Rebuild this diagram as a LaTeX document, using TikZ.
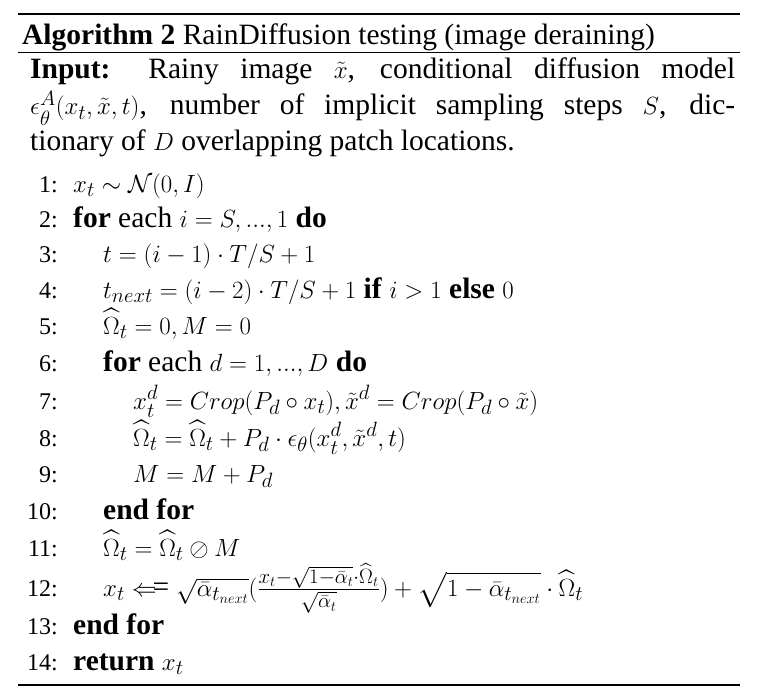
\documentclass[tikz,border=0pt]{standalone}
\usepackage{amsmath,amssymb}
\usepackage{fontspec}
\setmainfont{Liberation Serif}
\begin{document}
\begin{tikzpicture}[x=1pt,y=-1pt,
  ln/.style={anchor=base east,inner sep=0pt,font=\fontsize{24}{30}\selectfont},
  tx/.style={anchor=base west,inner sep=0pt,font=\fontsize{29.5}{36}\selectfont}]
\useasboundingbox (0,0) rectangle (758,697);
\draw[line width=1.6pt] (18,14) -- (740,14);
\draw[line width=0.8pt] (18,52) -- (740,52);
\draw[line width=1.2pt] (18,685) -- (740,685);
\node[tx] (cap) at (22,44) {\textbf{Algorithm 2} RainDiffusion testing (image deraining)};
\node[tx,anchor=north west,text width=705pt,align=justify] (inp) at (30,58)
 {\hangindent=43pt\hangafter=1 \textbf{Input:} Rainy image $\tilde{x}$, conditional diffusion model\linebreak $\epsilon^{A}_{\theta}(x_t,\tilde{x},t)$, number of implicit sampling steps $S$, dic-\linebreak tionary of $D$ overlapping patch locations.};
\foreach \n/\y in {1/192,2/227,3/262,4/298,5/334,6/371,7/409,8/446,9/482,10/519,11/556,12/596,13/634,14/670}
  \node[ln] (n\n) at (58,\y) {\n:};
\node[tx] (l1) at (73,192) {$x_t \sim \mathcal{N}(0,I)$};
\node[tx] (l2) at (73,227) {\textbf{for} each $i = S, ..., 1$ \textbf{do}};
\node[tx] (l3) at (103,262) {$t=(i-1)\cdot T/S+1$};
\node[tx] (l4) at (103,298) {$t_{next}=(i-2)\cdot T/S+1$ \textbf{if} $i>1$ \textbf{else} $0$};
\node[tx] (l5) at (103,334) {$\widehat{\Omega}_t=0, M=0$};
\node[tx] (l6) at (103,371) {\textbf{for} each $d = 1, ..., D$ \textbf{do}};
\node[tx] (l7) at (133,409) {$x^d_t = Crop(P_d\circ x_t), \tilde{x}^d = Crop(P_d\circ\tilde{x})$};
\node[tx] (l8) at (133,446) {$\widehat{\Omega}_t=\widehat{\Omega}_t+P_d\cdot\epsilon_\theta(x^d_t,\tilde{x}^d,t)$};
\node[tx] (l9) at (133,482) {$M=M+P_d$};
\node[tx] (l10) at (103,519) {\textbf{end for}};
\node[tx] (l11) at (103,556) {$\widehat{\Omega}_t=\widehat{\Omega}_t\oslash M$};
\node[tx] (l12) at (103,596) {$x_t \Longleftarrow \sqrt{\bar{\alpha}_{t_{next}}}(\frac{x_t-\sqrt{1-\bar{\alpha}_t}\cdot\widehat{\Omega}_t}{\sqrt{\bar{\alpha}_t}})+\sqrt{1-\bar{\alpha}_{t_{next}}}\cdot\widehat{\Omega}_t$};
\node[tx] (l13) at (73,634) {\textbf{end for}};
\node[tx] (l14) at (73,670) {\textbf{return} $x_t$};
\end{tikzpicture}
\end{document}
